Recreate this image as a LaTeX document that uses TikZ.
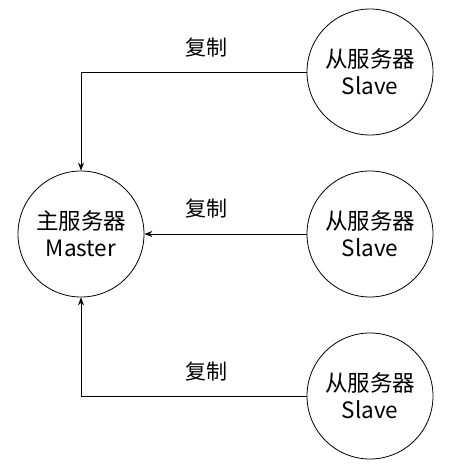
\documentclass[tikz,border=0pt]{standalone}
\usepackage{fontspec}
\setmainfont{Noto Sans CJK SC}
\usetikzlibrary{arrows.meta}
\begin{document}
\begin{tikzpicture}[x=1pt,y=-1pt,
  srv/.style={circle,draw,line width=0.8pt,minimum size=126pt,inner sep=0pt,align=center,font=\fontsize{22.5}{27}\selectfont},
  lbl/.style={font=\fontsize{21}{24}\selectfont},
  conn/.style={line width=0.8pt,-{Stealth[length=8pt,width=6pt]}}]
\useasboundingbox (0,0) rectangle (474,465);
\node[srv] (m) at (81,234) {主服务器\\Master};
\node[srv] (s1) at (370,72) {从服务器\\Slave};
\node[srv] (s2) at (370,234) {从服务器\\Slave};
\node[srv] (s3) at (370,396) {从服务器\\Slave};
\draw[conn] (s1.west) -| (m.north);
\draw[conn] (s2.west) -- (m.east);
\draw[conn] (s3.west) -| (m.south);
\node[lbl] (l1) at (206,48) {复制};
\node[lbl] (l2) at (206,209) {复制};
\node[lbl] (l3) at (206,372) {复制};
\end{tikzpicture}
\end{document}
